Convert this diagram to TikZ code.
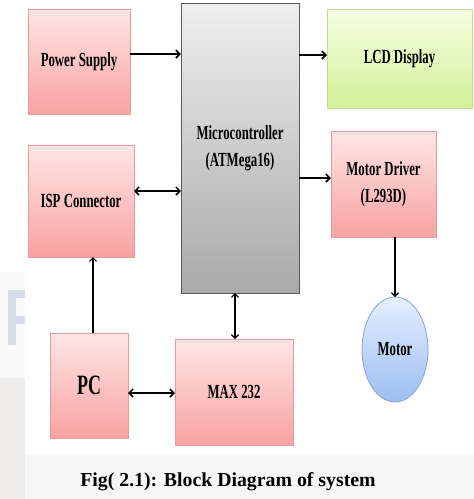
\documentclass[tikz,border=0pt]{standalone}
\usepackage{fontspec}
\usetikzlibrary{arrows.meta,shapes.geometric}
\newfontfamily\boxfont[FakeStretch=0.64]{Liberation Serif}
\newfontfamily\capfont{Liberation Serif}
\definecolor{pinktop}{HTML}{FFE6E6}
\definecolor{pinkbot}{HTML}{F8A2A2}
\definecolor{pinkline}{HTML}{E59999}
\definecolor{graytop}{HTML}{EFEFEF}
\definecolor{graybot}{HTML}{A9A9A9}
\definecolor{greentop}{HTML}{F5FFE2}
\definecolor{greenbot}{HTML}{D3F198}
\definecolor{greenline}{HTML}{C2DC92}
\definecolor{bluetop}{HTML}{E6EFFF}
\definecolor{bluebot}{HTML}{9BBEF2}
\definecolor{blueline}{HTML}{8AA3CC}
\definecolor{wmgray}{HTML}{EEEDEC}
\definecolor{wmblue}{HTML}{D8DBEA}
\tikzset{
  base/.style={inner sep=0pt, outer sep=0pt, align=center,
    font=\boxfont\bfseries\fontsize{20}{27}\selectfont},
  pinkbox/.style={base, draw=pinkline, line width=0.8pt,
    top color=pinktop, bottom color=pinkbot},
  mcubox/.style={base, draw=black!65, line width=0.9pt,
    top color=graytop, bottom color=graybot},
  lcdbox/.style={base, draw=greenline, line width=0.8pt,
    top color=greentop, bottom color=greenbot},
  motorshape/.style={base, ellipse, draw=blueline, line width=0.8pt,
    top color=bluetop, bottom color=bluebot},
  arrthick/.style={line width=1.9pt, -{Straight Barb[length=4pt,width=8pt,line width=1.6pt]}},
  dblthick/.style={line width=1.7pt, {Straight Barb[length=4pt,width=8pt,line width=1.5pt]}-{Straight Barb[length=4pt,width=8pt,line width=1.5pt]}},
  arrthin/.style={line width=1.2pt, -{Straight Barb[length=3.5pt,width=7pt,line width=1.2pt]}},
  dblthin/.style={line width=1.3pt, {Straight Barb[length=3.5pt,width=7pt,line width=1.2pt]}-{Straight Barb[length=3.5pt,width=7pt,line width=1.2pt]}},
}
\begin{document}
\begin{tikzpicture}[x=1pt,y=-1pt]
\useasboundingbox (0,0) rectangle (474,499);
% faint background watermark
\fill[black!3] (0,455) rectangle (474,499);
\fill[wmgray] (0,378) rectangle (25,499);
\fill[black!2] (0,272) rectangle (25,378);
\fill[wmblue] (8,290) rectangle (16,345);
\fill[wmblue] (8,290) rectangle (25,298);
\fill[wmblue] (8,316) rectangle (25,324);

\node[pinkbox, minimum width=102pt, minimum height=105pt] (ps) at (79,61.5) {Power Supply};
\node[mcubox, minimum width=118pt, minimum height=290pt] (mcu) at (240,148) {Microcontroller\\(ATMega16)};
\node[lcdbox, minimum width=145pt, minimum height=99pt] (lcd) at (399.5,58.5) {LCD Display};
\node[pinkbox, minimum width=105pt, minimum height=106pt] (md) at (383.5,184) {Motor Driver\\(L293D)};
\node[pinkbox, minimum width=106pt, minimum height=112pt] (isp) at (81,201) {ISP Connector};
\node[pinkbox, minimum width=78pt, minimum height=105pt, font=\boxfont\bfseries\fontsize{28}{30}\selectfont] (pc) at (89,385.5) {PC};
\node[pinkbox, minimum width=118pt, minimum height=106pt] (max) at (234,392) {MAX 232};
\node[motorshape, minimum width=66pt, minimum height=105pt] (motor) at (395,349.5) {Motor};

\node[font=\capfont\bfseries\fontsize{19.8}{24}\selectfont, inner sep=0pt] (cap) at (228,482) {Fig( 2.1): Block Diagram of system};

\draw[arrthick] ([yshift=7.5pt]ps.east) -- ([yshift=7.5pt]ps.east -| mcu.west);
\draw[arrthick] ([yshift=3.5pt]lcd.west -| mcu.east) -- ([yshift=3.5pt]lcd.west);
\draw[arrthick] ([yshift=6pt]md.west -| mcu.east) -- ([yshift=6pt]md.west);
\draw[dblthick] ([yshift=10pt]isp.east) -- ([yshift=10pt]isp.east -| mcu.west);
\draw[arrthin] (motor.north |- md.south) -- (motor.north);
\draw[arrthin] ([xshift=4pt]pc.north) -- ([xshift=4pt]pc.north |- isp.south);
\draw[dblthin] ([xshift=1pt]max.north |- mcu.south) -- ([xshift=1pt]max.north);
\draw[dblthick] ([yshift=-1pt]max.west -| pc.east) -- ([yshift=-1pt]max.west);
\end{tikzpicture}
\end{document}
